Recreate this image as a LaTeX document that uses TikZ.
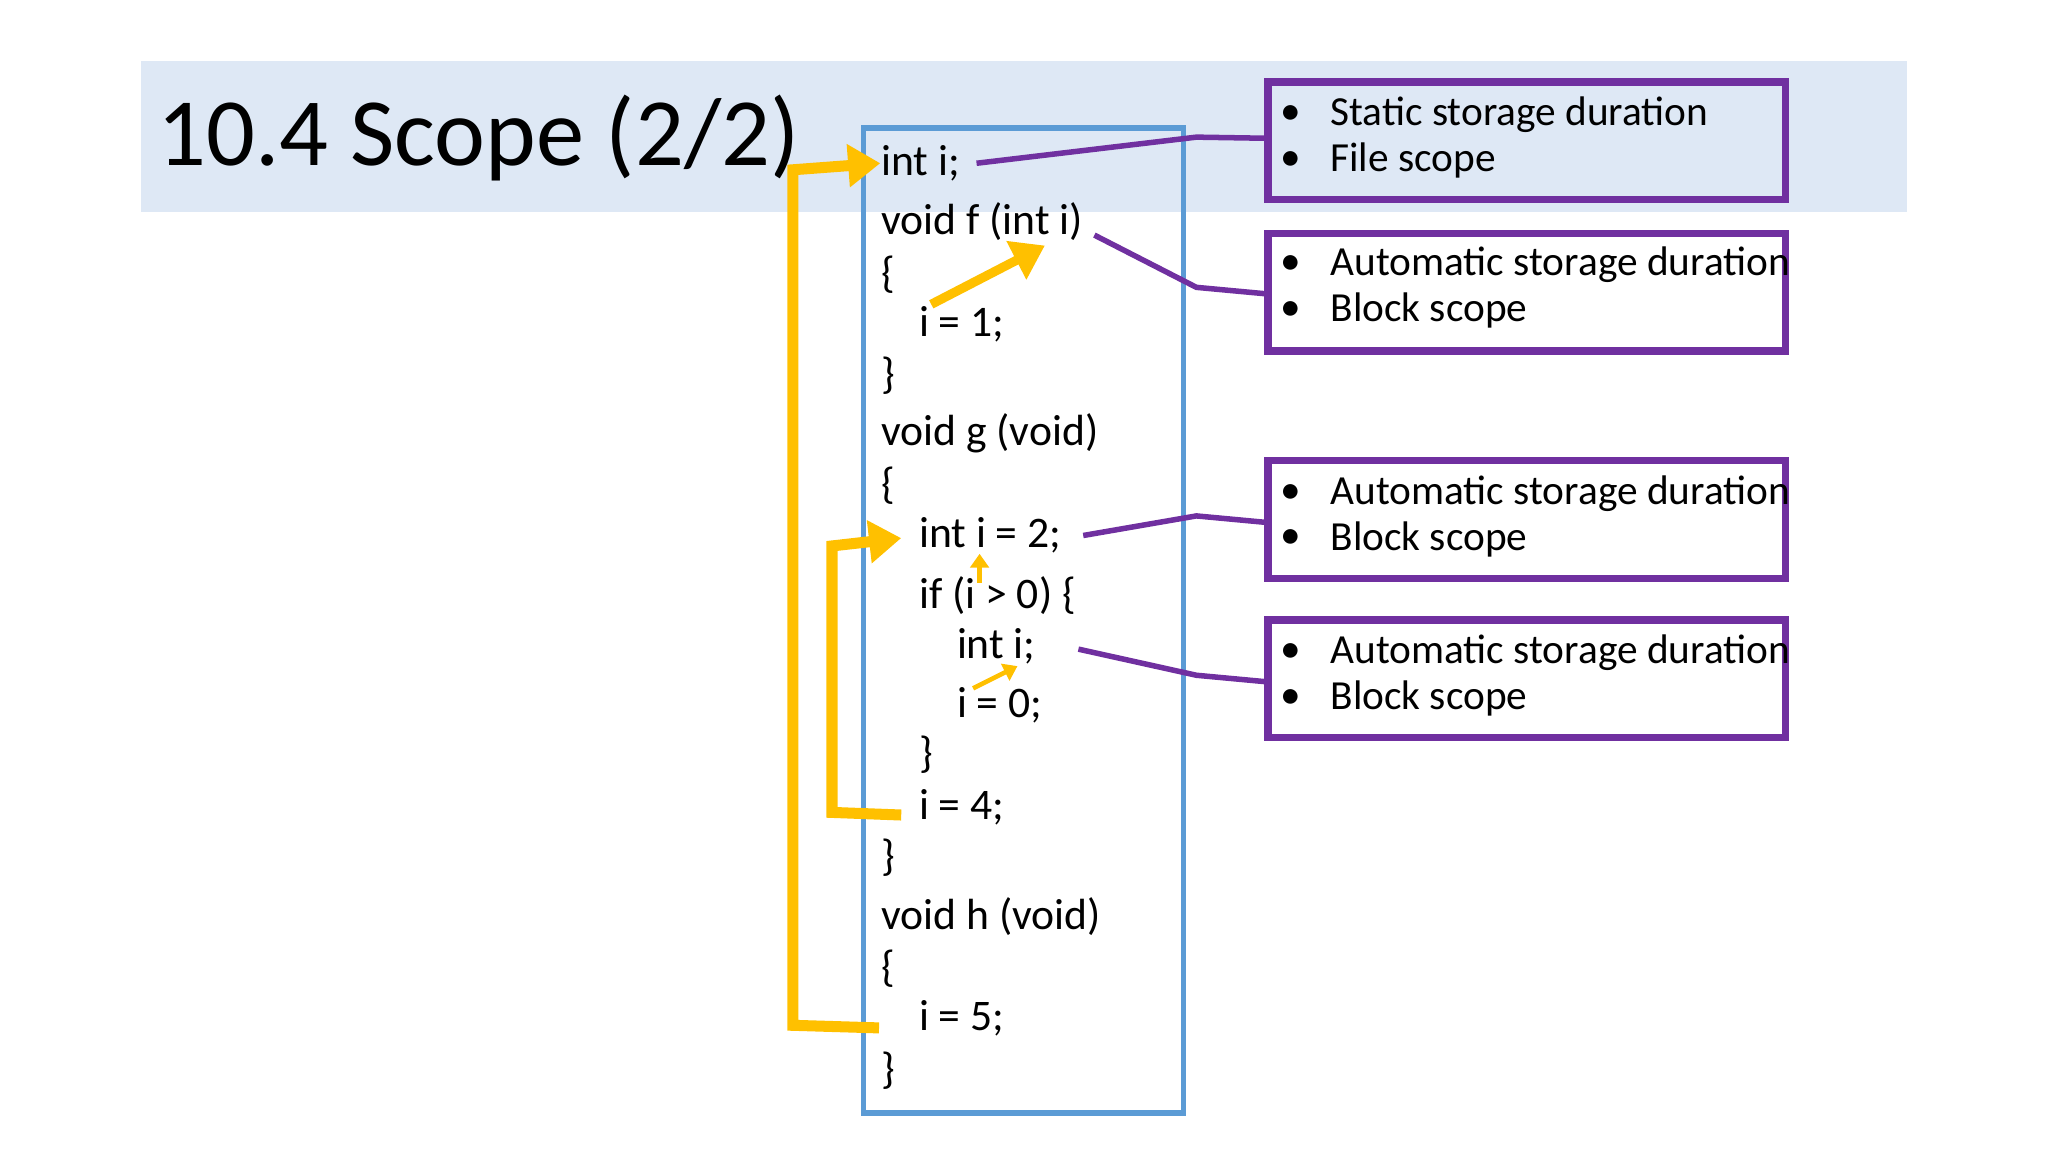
\documentclass[tikz,border=0pt]{standalone}
\usepackage{fontspec}
\setmainfont{Carlito}
\usetikzlibrary{calc,arrows.meta,positioning}
\definecolor{band}{HTML}{DEE8F5}
\definecolor{codeblue}{HTML}{5B9BD5}
\definecolor{boxpurple}{HTML}{7030A0}
\definecolor{gold}{HTML}{FFC000}
\tikzset{
  code/.style = {anchor=west, inner sep=0pt, font=\fontsize{9.5}{11}\selectfont},
  info/.style = {draw=boxpurple, line width=1.6pt, minimum width=3.96cm, minimum height=0.9cm, anchor=north west, inner sep=0pt},
  item/.style = {anchor=west, inner sep=0pt, font=\fontsize{9}{11}\selectfont},
  link/.style = {draw=boxpurple, line width=1.2pt},
  scopearrow/.style = {draw=gold, line width=2.4pt, -{Triangle[length=7pt,width=9pt]}},
  smallarrow/.style = {draw=gold, line width=1pt, -{Triangle[length=3pt,width=4pt]}}
}
\begin{document}
\begin{tikzpicture}[x=0.01cm,y=-0.01cm]
  \useasboundingbox (0,0) rectangle (1568,882);
  \fill[band] (108,47) rectangle (1460,162);
  \node[anchor=base west, inner sep=0pt, font=\fontsize{21}{24}\selectfont] (title) at (120,127) {10.4 Scope (2/2)};

  \draw[codeblue, line width=1.2pt] (661,98) rectangle (906,852);

  % code lines
  \node[code] (c1) at (674,125) {int i;};
  \node[code] (c2) at (674,170) {void f (int i)};
  \node[code] (c3) at (674,210) {\{};
  \node[code] (c4) at (703,248) {i = 1;};
  \node[code] (c5) at (674,288) {\}};
  \node[code] (c6) at (674,332) {void g (void)};
  \node[code] (c7) at (674,372) {\{};
  \node[code] (c8) at (703,410) {int i = 2;};
  \node[code] (c9) at (703,456) {if (i > 0) \{};
  \node[code] (c10) at (732,495) {int i;};
  \node[code] (c11) at (732,540) {i = 0;};
  \node[code] (c12) at (703,578) {\}};
  \node[code] (c13) at (703,618) {i = 4;};
  \node[code] (c14) at (674,657) {\}};
  \node[code] (c15) at (674,702) {void h (void)};
  \node[code] (c16) at (674,742) {\{};
  \node[code] (c17) at (703,780) {i = 5;};
  \node[code] (c18) at (674,820) {\}};

  % info boxes
  \node[info] (b1) at (968,60) {};
  \node[info] (b2) at (968,176) {};
  \node[info] (b3) at (968,350) {};
  \node[info] (b4) at (968,472) {};
  \foreach \b/\y/\first/\second in {b1/88/Static storage duration/File scope, b2/203/Automatic storage duration/Block scope, b3/378/Automatic storage duration/Block scope, b4/500/Automatic storage duration/Block scope} {
    \node[item] at (980,\y) {\textbullet};
    \node[item] at (1018,\y) {\first};
    \node[item] at (980,\y+35) {\textbullet};
    \node[item] at (1018,\y+35) {\second};
  }

  % links
  \coordinate (k1) at (916,105);
  \coordinate (k2) at (916,220);
  \coordinate (k3) at (916,395);
  \coordinate (k4) at (916,517);
  \draw[link] ($(c1.east)+(12,0)$) -- (k1) -- ($(b1.west)+(0,-2)$);
  \draw[link] ($(c2.east)+(8,10)$) -- (k2) -- ($(b2.west)+(0,1)$);
  \draw[link] ($(c8.east)+(16,0)$) -- (k3) -- ($(b3.west)+(0,2)$);
  \draw[link] ($(c10.east)+(32,2)$) -- (k4) -- ($(b4.west)+(0,2)$);

  % scope arrows
  \coordinate (s1) at (673,787);
  \coordinate (s2) at (690,624);
  \draw[scopearrow] (s1) -- (607,785) -- (607,130) -- (c1.west);
  \draw[scopearrow] (s2) -- (637,622) -- (637,418) -- (690,412);
  \coordinate (f1) at (713,233);
  \coordinate (f2) at (800,188);
  \draw[scopearrow, line width=2pt] (f1) -- (f2);
  \coordinate (g1) at (750,446);
  \coordinate (g2) at (750,424);
  \draw[smallarrow] (g1) -- (g2);
  \coordinate (h1) at (745,527);
  \coordinate (h2) at (779,510);
  \draw[smallarrow] (h1) -- (h2);
\end{tikzpicture}
\end{document}
